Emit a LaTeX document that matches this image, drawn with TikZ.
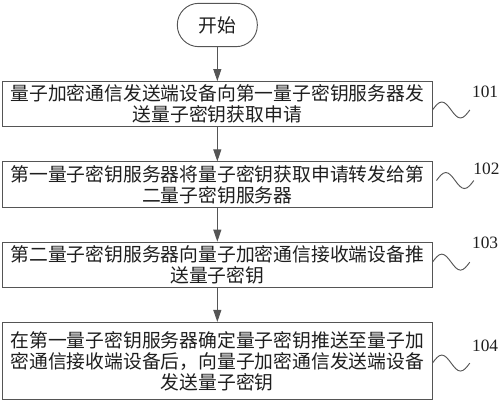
\documentclass[tikz,border=0pt]{standalone}
\usepackage{fontspec}
\setmainfont{Liberation Serif}
\newfontfamily\cjk{Noto Sans CJK SC}
\usetikzlibrary{positioning,arrows.meta}
\definecolor{lineGray}{RGB}{85,85,85}
\definecolor{textGray}{RGB}{30,30,30}
\newlength{\boxWidth}
\setlength{\boxWidth}{322pt}
\newlength{\boxHeight}
\setlength{\boxHeight}{34pt}
\tikzset{flowbox/.style={shape=rectangle, draw=lineGray, line width=0.7pt, minimum width=\boxWidth, minimum height=\boxHeight, inner sep=1pt, align=center, text=textGray, font=\cjk\fontsize{14.1pt}{15.8pt}\selectfont}}
\tikzset{startbox/.style={shape=rectangle, rounded corners=16pt, draw=lineGray, line width=0.7pt, minimum width=60pt, minimum height=32.5pt, text=textGray, font=\cjk\fontsize{14.1pt}{15.8pt}\selectfont}}
\tikzset{flow/.style={draw=lineGray, line width=0.7pt, -{Triangle[length=9pt,width=6pt]}}}
\tikzset{numlabel/.style={text=textGray, inner sep=0pt, font=\fontsize{13pt}{13pt}\selectfont}}
\tikzset{wave/.style={draw=lineGray, line width=0.7pt}}

\begin{document}
\begin{tikzpicture}[node distance=25.5pt]
\useasboundingbox (0,0) rectangle (375pt,-300pt);
\node[startbox] (start) at (163pt,-18.75pt) {开始};
\begin{scope}[every node/.style={flowbox}]
    \node[below=of start] (apply) {量子加密通信发送端设备向第一量子密钥服务器发\\送量子密钥获取申请};
    \node[below=of apply] (forward) {第一量子密钥服务器将量子密钥获取申请转发给第\\二量子密钥服务器};
    \node[below=of forward] (push) {第二量子密钥服务器向量子加密通信接收端设备推\\送量子密钥};
    \node[minimum height=58pt,below=of push] (confirm) {在第一量子密钥服务器确定量子密钥推送至量子加\\密通信接收端设备后，向量子加密通信发送端设备\\发送量子密钥};
\end{scope}
\draw[flow] (start) -- (apply);
\draw[flow] (apply) -- (forward);
\draw[flow] (forward) -- (push);
\draw[flow] (push) -- (confirm);
% step numbers with wavy leaders
\coordinate (w1) at ([yshift=-4.3pt]apply.east);
\coordinate (w2) at ([xshift=3pt,yshift=3pt]forward.east);
\coordinate (w3) at ([yshift=2pt]push.east);
\coordinate (w4) at ([yshift=-1.5pt]confirm.east);
\draw[wave] (w1) sin ++(7pt,6pt) cos ++(7pt,-6pt) sin ++(7pt,-6pt) cos ++(7pt,6pt);
\draw[wave] (w2) sin ++(7pt,6pt) cos ++(7pt,-6pt) sin ++(7pt,-6pt) cos ++(7pt,6pt);
\draw[wave] (w3) sin ++(7pt,6pt) cos ++(7pt,-6pt) sin ++(7pt,-6pt) cos ++(7pt,6pt);
\draw[wave] (w4) sin ++(7pt,6pt) cos ++(7pt,-6pt) sin ++(7pt,-6pt) cos ++(7pt,6pt);
\node[numlabel] (n101) at ([xshift=39.5pt,yshift=13.7pt]w1) {101};
\node[numlabel] (n102) at ([xshift=37.5pt,yshift=9pt]w2) {102};
\node[numlabel] (n103) at ([xshift=39.5pt,yshift=14.6pt]w3) {103};
\node[numlabel] (n104) at ([xshift=39.5pt,yshift=13pt]w4) {104};
\end{tikzpicture}
\end{document}
